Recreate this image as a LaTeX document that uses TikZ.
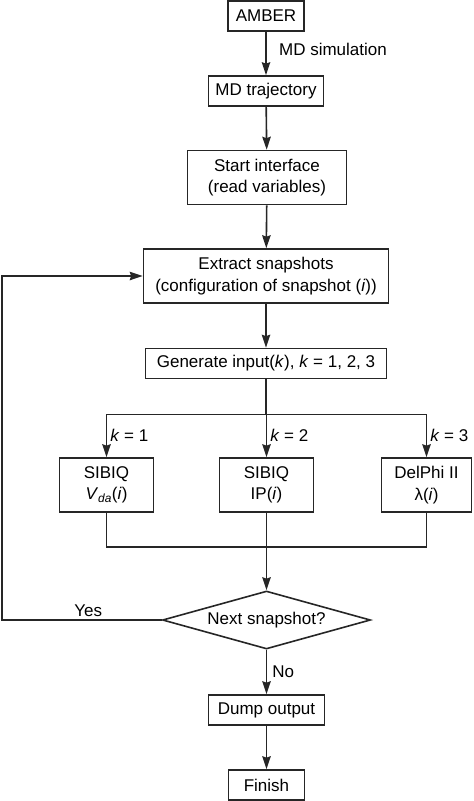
\documentclass[tikz,border=0pt]{standalone}
\usepackage{fontspec}
\setmainfont{Liberation Sans}
\usetikzlibrary{shapes.geometric, arrows.meta}

\begin{document}
\begin{tikzpicture}[x=1pt, y=1pt, node distance=75pt, font=\fontsize{17}{21.5}\selectfont]
        \tikzstyle{process} = [rectangle, minimum height=30pt, inner sep=0pt, align=center, draw=black!85, line width=1.6pt]
        \tikzstyle{tallprocess} = [process, minimum height=54pt]
        \tikzstyle{decision} = [diamond, aspect=3.6, minimum width=208pt, minimum height=58pt, inner sep=0pt, align=center, draw=black!85, line width=1.6pt]
        \tikzstyle{line} = [line width=1.6pt, draw=black!85]
        \tikzstyle{arrow} = [line, -{Stealth[length=13pt, width=8.5pt, inset=1.5pt]}]

        \useasboundingbox (0,0) rectangle (474,-801);

        \node (amber) [process, minimum width=76pt] at (266,-16) {AMBER};
        \node (traj) [process, minimum width=115pt, below of=amber] {MD trajectory};
        \node (start) [tallprocess, minimum width=159pt, below of=traj, yshift=-11.5pt, xshift=1pt] {Start interface\\(read variables)};
        \node (extract) [tallprocess, minimum width=245pt, below of=start, yshift=-23.5pt, xshift=-1pt] {Extract snapshots\\(configuration of snapshot (\textit{i}))};
        \node (gen) [process, minimum width=241pt, below of=extract, yshift=-12.5pt] {Generate input(\textit{k}), \textit{k} = 1, 2, 3};
        \node (sib2) [tallprocess, minimum width=94pt, below of=gen, yshift=-46.5pt, xshift=0.5pt] {SIBIQ\\IP(\textit{i})};
        \node (sib1) [tallprocess, minimum width=94pt, left of=sib2, xshift=-85pt] {SIBIQ\\\textit{V}\textsubscript{\textit{da}}(\textit{i})};
        \node (delphi) [tallprocess, minimum width=90pt, right of=sib2, xshift=85pt] {DelPhi II\\λ(\textit{i})};
        \node (next) [decision, below of=sib2, yshift=-60pt] {Next snapshot?};
        \node (dump) [process, minimum width=116pt, below of=next, yshift=-15pt] {Dump output};
        \node (finish) [process, minimum width=76pt, below of=dump] {Finish};

        \path (gen.south) ++(0,-35) coordinate (split);
        \path (sib2.south) ++(0,-34) coordinate (merge);
        \coordinate (loop) at (2,0);

        \draw [arrow] (amber) -- node[anchor=west, pos=0.4, xshift=9pt] {MD simulation} (traj);
        \draw [arrow] (traj) -- (start);
        \draw [arrow] (start) -- (extract);
        \draw [arrow] (extract) -- (gen);
        \draw [line] (gen) -- (split);
        \draw [line] (sib1 |- split) -- (delphi |- split);
        \draw [arrow] (sib1 |- split) -- node[anchor=west, inner sep=3pt] {\textit{k} = 1} (sib1);
        \draw [arrow] (sib2 |- split) -- node[anchor=west, inner sep=3pt] {\textit{k} = 2} (sib2);
        \draw [arrow] (delphi |- split) -- node[anchor=west, inner sep=3pt] {\textit{k} = 3} (delphi);
        \draw [line] (sib1) |- (merge) -| (delphi);
        \draw [arrow] (sib2) -- (next);
        \draw [arrow] (next.west) -- node[anchor=south, pos=0.46, inner sep=3pt] {Yes} (loop |- next) |- (extract.west);
        \draw [arrow] (next) -- node[anchor=west, inner sep=5pt] {No} (dump);
        \draw [arrow] (dump) -- (finish);
\end{tikzpicture}
\end{document}
